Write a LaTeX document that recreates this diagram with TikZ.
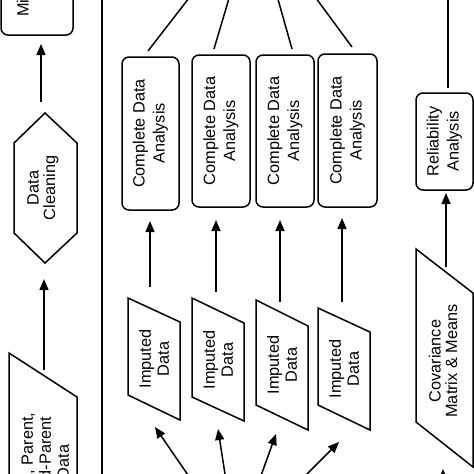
\documentclass[tikz,border=0pt]{standalone}
\usepackage{fontspec}
\setmainfont{Liberation Sans}
\usetikzlibrary{arrows.meta}
\begin{document}
\begin{tikzpicture}[x=1pt,y=-1pt,
  shp/.style={draw=black, line width=1.5pt, line join=miter},
  conn/.style={draw=black, line width=1.5pt},
  arr/.style={conn, -{Triangle[length=11pt,width=9pt]}},
  txt/.style={rotate=90, align=center, inner sep=0pt, font=\fontsize{16.3}{18}\selectfont},
  txtw/.style={txt, font=\fontsize{16.3}{20}\selectfont},
  txtn/.style={txt, font=\fontsize{16.3}{16.5}\selectfont},
  rbox/.style={shp, rounded corners=7pt}
]
\useasboundingbox (0,0) rectangle (474,474);
\clip (0,0) rectangle (474,474);
\fill[white] (0,0) rectangle (474,474);

% divider
\coordinate (dtop) at (102,0);
\coordinate (dbot) at (102,474);
\draw[conn] (dtop) -- (dbot);

% ---------- left column ----------
\draw[rbox] (1,-97) rectangle (73,35);
\node[txtn] (mbox) at (41,-30.5) {Missing Data\\Pattern\\Analysis};

\draw[shp] (45,113) -- (77,143) -- (77,233) -- (45,263) -- (14,233) -- (14,143) -- cycle;
\node[txtn] (clean) at (43,188) {Data\\Cleaning};

\draw[shp] (9,353) -- (77,397) -- (77,571) -- (9,527) -- cycle;
\node[txt] (raw) at (45,462) {Child, Parent,\\Child-Parent\\Data};

\coordinate (c1a) at (44,370);
\coordinate (c1b) at (44,279);
\draw[arr] (c1a) -- (c1b);
\coordinate (c2a) at (41,102);
\coordinate (c2b) at (41,44);
\draw[arr] (c2a) -- (c2b);

% ---------- middle columns ----------
\node[rbox, txtw, minimum width=153pt, minimum height=57pt] (b1) at (150.5,133.5) {Complete Data\\Analysis};
\node[rbox, txtw, minimum width=152pt, minimum height=58pt] (b2) at (221,131) {Complete Data\\Analysis};
\node[rbox, txtw, minimum width=152pt, minimum height=58pt] (b3) at (285,131) {Complete Data\\Analysis};
\node[rbox, txtw, minimum width=153pt, minimum height=59pt] (b4) at (347.5,130.5) {Complete Data\\Analysis};

\draw[shp] (128,298) -- (180,322) -- (180,420) -- (128,395) -- cycle;
\node[txt] (p1) at (154,359) {Imputed\\Data};
\draw[shp] (192,298) -- (244,323) -- (244,421) -- (192,397) -- cycle;
\node[txt] (p2) at (218,360) {Imputed\\Data};
\draw[shp] (256,300) -- (308,326) -- (308,430) -- (256,405) -- cycle;
\node[txt] (p3) at (282,365) {Imputed\\Data};
\draw[shp] (318,308) -- (370,332) -- (370,430) -- (318,405) -- cycle;
\node[txt] (p4) at (344,369) {Imputed\\Data};

% arrows imputed -> analysis
\coordinate (i1) at (150,287); \coordinate (o1) at (150,221);
\coordinate (i2) at (216,292); \coordinate (o2) at (216,220);
\coordinate (i3) at (280,302); \coordinate (o3) at (280,220);
\coordinate (i4) at (342,302); \coordinate (o4) at (342,218);
\draw[arr] (i1) -- (o1);
\draw[arr] (i2) -- (o2);
\draw[arr] (i3) -- (o3);
\draw[arr] (i4) -- (o4);

% lines up to pooled node (off picture)
\coordinate (apex) at (254,-86);
\coordinate (t1) at (148,51);
\coordinate (t2) at (214,49);
\coordinate (t3) at (292,49);
\coordinate (t4) at (352,47);
\draw[conn] (t1) -- (apex);
\draw[conn] (t2) -- (apex);
\draw[conn] (t3) -- (apex);
\draw[conn] (t4) -- (apex);

% arrows from imputation source (off picture)
\coordinate (src) at (236,545);
\coordinate (q1) at (155,427);
\coordinate (q2) at (218,429);
\coordinate (q3) at (276,434);
\coordinate (q4) at (339,442);
\draw[arr] (src) -- (q1);
\draw[arr] (src) -- (q2);
\draw[arr] (src) -- (q3);
\draw[arr] (src) -- (q4);

% ---------- right column ----------
\node[rbox, txtw, minimum width=97pt, minimum height=57pt] (rel) at (444.5,141.5) {Reliability\\Analysis};
\draw[shp] (416,249) -- (473,293) -- (473,467) -- (416,422) -- cycle;
\node[txtn] (cov) at (443,361) {Covariance\\Matrix \& Means};

\coordinate (r1) at (446,267); \coordinate (r2) at (446,193);
\draw[arr] (r1) -- (r2);
\coordinate (u1) at (448,88); \coordinate (u2) at (448,-10);
\draw[conn] (u1) -- (u2);
\coordinate (s1) at (443,540); \coordinate (s2) at (443,469);
\draw[arr] (s1) -- (s2);
\end{tikzpicture}
\end{document}
